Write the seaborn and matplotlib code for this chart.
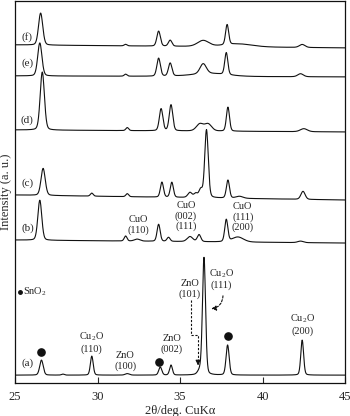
import numpy as np
import pandas as pd
import matplotlib
matplotlib.use("Agg")
import matplotlib.pyplot as plt
import seaborn as sns

# XRD patterns: peak position (deg), height, FWHM (deg)
# heights and offsets are in the plot's arbitrary intensity units
samples = ["(a)", "(b)", "(c)", "(d)", "(e)", "(f)"]
offset_left = [8, 143, 188, 253, 307, 338]
offset_right = [8, 140, 183, 251, 306, 335]

peaks = {
    "(a)": [(26.6, 15, 0.25), (27.9, 1, 0.2), (29.65, 19, 0.2), (31.8, 1.5, 0.3),
            (33.8, 8, 0.22), (34.45, 10, 0.2), (36.2, 4, 0.3), (36.45, 117, 0.22),
            (37.88, 30, 0.22), (42.4, 35, 0.2)],
    "(b)": [(26.5, 40, 0.28), (31.7, 5, 0.2), (32.4, 2, 0.4), (33.7, 17, 0.22),
            (34.3, 4, 0.22), (35.6, 5, 0.4), (36.15, 7, 0.25), (37.8, 22, 0.22),
            (38.5, 5, 0.8), (42.3, 1.5, 0.4)],
    "(c)": [(26.7, 27, 0.3), (29.65, 3, 0.2), (31.8, 3, 0.2), (33.9, 15, 0.22),
            (34.5, 15, 0.22), (35.6, 5, 0.3), (35.95, 4, 0.25), (36.25, 8, 0.25),
            (36.6, 68, 0.25), (37.9, 18, 0.22), (38.6, 2, 0.5), (42.45, 8, 0.3)],
    "(d)": [(26.65, 58, 0.3), (31.8, 3, 0.2), (33.85, 22, 0.25), (34.45, 26, 0.25),
            (36.2, 7, 0.5), (36.7, 7, 0.5), (37.9, 24, 0.22), (42.5, 3, 0.5)],
    "(e)": [(26.5, 33, 0.3), (31.7, 2, 0.2), (33.7, 18, 0.25), (34.4, 13, 0.25),
            (36.4, 10, 0.45), (36.8, 3, 2.5), (37.8, 22, 0.22), (42.3, 3, 0.4)],
    "(f)": [(26.55, 32, 0.3), (31.7, 1.5, 0.2), (33.7, 15, 0.25), (34.4, 6, 0.25),
            (36.4, 6, 0.8), (38.5, 3, 2.0), (37.85, 20, 0.22), (42.4, 3, 0.4)],
}

# SnO2 marker positions above pattern (a)
sno2_x = [26.55, 33.75, 37.88]
sno2_y = [31, 21, 47]

two_theta = np.linspace(25, 45, 2001)


def profile(x, plist, left, right):
    y = left + (right - left) * (x - 25) / 20
    for pos, h, w in plist:
        g = np.exp(-4 * np.log(2) * ((x - pos) / w) ** 2)
        l = 1 / (1 + 4 * ((x - pos) / w) ** 2)
        y = y + h * (0.8 * g + 0.2 * l)
    return y


rows = []
for s, lo, ro in zip(samples, offset_left, offset_right):
    y = profile(two_theta, peaks[s], lo, ro)
    rows.append(pd.DataFrame({"two_theta": two_theta, "intensity": y, "sample": s}))
df = pd.concat(rows, ignore_index=True)

sns.set_style("ticks")
plt.rcParams["font.family"] = ["Liberation Serif", "DejaVu Serif"]
plt.rcParams["mathtext.fontset"] = "custom"
plt.rcParams["mathtext.rm"] = "Liberation Serif"
plt.rcParams["mathtext.it"] = "Liberation Serif:italic"

fig = plt.figure(figsize=(3.5, 4.16), dpi=100)
ax = fig.add_axes([0.043, 0.079, 0.943, 0.919])

sns.lineplot(data=df, x="two_theta", y="intensity", hue="sample",
             palette=["#111111"] * 6, legend=False, estimator=None,
             linewidth=0.8, ax=ax)

ax.set_xlim(25, 45)
ax.set_ylim(0, 382)
ax.set_yticks([])
ax.set_xticks([25, 30, 35, 40, 45])
ax.tick_params(axis="x", direction="in", length=4, width=0.8, labelsize=9, pad=6)
for sp in ax.spines.values():
    sp.set_linewidth(0.9)
    sp.set_color("#111111")
ax.set_xlabel("2θ/deg. CuKα", fontsize=9, labelpad=1)
ax.set_ylabel("Intensity (a. u.)", fontsize=9, labelpad=2)

fs = 7.5
label_y = [20, 155, 200, 263, 320, 346]
for s, ly in zip(samples, label_y):
    ax.text(25.75, ly, s, fontsize=fs + 0.5, ha="center", va="center")

ax.plot(sno2_x, sno2_y, "o", color="#111111", markersize=5.2)
ax.plot([25.3], [91], "o", color="#111111", markersize=2.5)
ax.text(25.5, 91, "SnO$_2$", fontsize=fs, ha="left", va="center")

ann = [
    (29.65, 41, "Cu$_2$O\n(110)"),
    (31.67, 22, "ZnO\n(100)"),
    (34.5, 39, "ZnO\n(002)"),
    (35.6, 94, "ZnO\n(101)"),
    (37.5, 104, "Cu$_2$O\n(111)"),
    (42.45, 59, "Cu$_2$O\n(200)"),
    (32.45, 158, "CuO\n(110)"),
    (35.36, 167, "CuO\n(002)\n(111)"),
    (38.8, 166, "CuO\n(111)\n(200)"),
]
for x, y, t in ann:
    ax.text(x, y, t, fontsize=fs, ha="center", va="center", linespacing=1.1)

# dashed leader lines
ax.plot([35.67, 35.67, 36.09, 36.09], [83, 48, 48, 22], color="#111111",
        lw=0.8, ls=(0, (2, 1.5)))
ax.annotate("", xy=(36.09, 15), xytext=(36.09, 23),
            arrowprops=dict(arrowstyle="-|>", color="#111111", lw=0.8,
                            mutation_scale=7))
ax.annotate("", xy=(36.72, 74), xytext=(37.6, 90),
            arrowprops=dict(arrowstyle="-|>", color="#111111", lw=0.8,
                            ls=(0, (2, 1.5)), mutation_scale=7,
                            connectionstyle="arc3,rad=-0.5"))

fig.savefig("out.png", dpi=100)
